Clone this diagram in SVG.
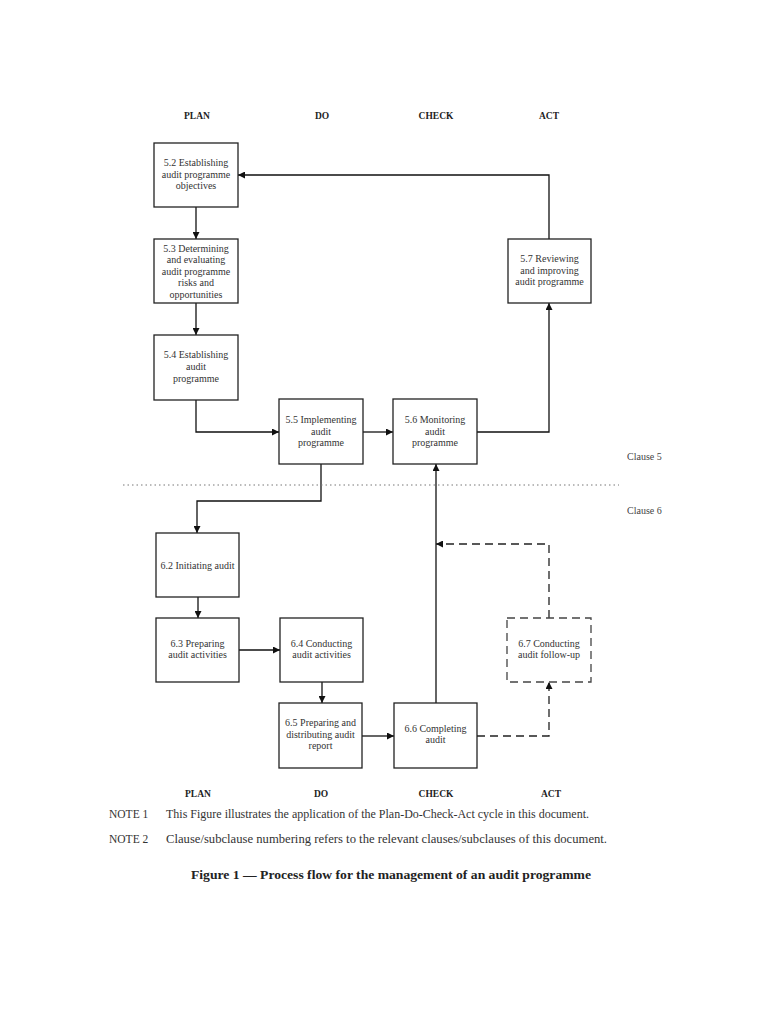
<svg xmlns="http://www.w3.org/2000/svg" width="768" height="1024" viewBox="0 0 768 1024">
<style>
.box{fill:#fff;stroke:#222;stroke-width:1.3}
.dbox{fill:#fff;stroke:#444;stroke-width:1.3;stroke-dasharray:8 5}
.t{font-family:"Liberation Serif","Times New Roman",serif;font-size:10px;fill:#333;text-anchor:middle}
.h{font-family:"Liberation Serif","Times New Roman",serif;font-size:9.5px;font-weight:bold;fill:#222;text-anchor:middle}
.c{font-family:"Liberation Serif","Times New Roman",serif;font-size:10px;fill:#444}
.n{font-family:"Liberation Serif","Times New Roman",serif;font-size:11.5px;fill:#333}
.cap{font-family:"Liberation Serif","Times New Roman",serif;font-size:13.5px;font-weight:bold;fill:#222}
.ln{fill:none;stroke:#111;stroke-width:1.3}
.dl{fill:none;stroke:#222;stroke-width:1.3;stroke-dasharray:8 5}
</style>
<defs>
<marker id="ah" viewBox="0 0 10 10" refX="10" refY="5" markerWidth="7" markerHeight="7" markerUnits="userSpaceOnUse" orient="auto">
<path d="M0,0 L10,5 L0,10 z" fill="#111"/>
</marker>
</defs>
<rect width="768" height="1024" fill="#fff"/>

<g id="headers-top">
<text class="h" x="197" y="119">PLAN</text>
<text class="h" x="322" y="119">DO</text>
<text class="h" x="436" y="119">CHECK</text>
<text class="h" x="549" y="119">ACT</text>
</g>

<g id="connectors">
<path class="ln" d="M196,207 V239" marker-end="url(#ah)"/>
<path class="ln" d="M196,303 V335" marker-end="url(#ah)"/>
<path class="ln" d="M196,400 V432 H279" marker-end="url(#ah)"/>
<path class="ln" d="M363,432 H393" marker-end="url(#ah)"/>
<path class="ln" d="M477,432 H549 V303" marker-end="url(#ah)"/>
<path class="ln" d="M549,239 V175 H238" marker-end="url(#ah)"/>
<path class="ln" d="M321,464 V501 H197 V533" marker-end="url(#ah)"/>
<path class="ln" d="M198,597 V618" marker-end="url(#ah)"/>
<path class="ln" d="M239,650 H280" marker-end="url(#ah)"/>
<path class="ln" d="M322,682 V703" marker-end="url(#ah)"/>
<path class="ln" d="M362,736 H394" marker-end="url(#ah)"/>
<path class="ln" d="M436,703 V464" marker-end="url(#ah)"/>
<path class="dl" d="M477,736 H549 V682" marker-end="url(#ah)"/>
<path class="dl" d="M549,618 V544 H436" marker-end="url(#ah)"/>
</g>

<line x1="123" y1="485" x2="619" y2="485" stroke="#777" stroke-width="1" stroke-dasharray="1.5 3"/>
<text class="c" x="627" y="460">Clause 5</text>
<text class="c" x="627" y="514">Clause 6</text>

<g id="n52">
<rect class="box" x="154" y="143" width="84" height="64"/>
<text class="t" x="196" y="166">5.2 Establishing</text>
<text class="t" x="196" y="178">audit programme</text>
<text class="t" x="196" y="189">objectives</text>
</g>
<g id="n53">
<rect class="box" x="154" y="239" width="84" height="64"/>
<text class="t" x="196" y="251.5">5.3 Determining</text>
<text class="t" x="196" y="263">and evaluating</text>
<text class="t" x="196" y="274.5">audit programme</text>
<text class="t" x="196" y="286">risks and</text>
<text class="t" x="196" y="297.5">opportunities</text>
</g>
<g id="n57">
<rect class="box" x="508" y="239" width="83" height="64"/>
<text class="t" x="549.5" y="262">5.7 Reviewing</text>
<text class="t" x="549.5" y="274">and improving</text>
<text class="t" x="549.5" y="285">audit programme</text>
</g>
<g id="n54">
<rect class="box" x="154" y="335" width="84" height="65"/>
<text class="t" x="196" y="358">5.4 Establishing</text>
<text class="t" x="196" y="370">audit</text>
<text class="t" x="196" y="382">programme</text>
</g>
<g id="n55">
<rect class="box" x="279" y="399" width="84" height="65"/>
<text class="t" x="321" y="423">5.5 Implementing</text>
<text class="t" x="321" y="435">audit</text>
<text class="t" x="321" y="446">programme</text>
</g>
<g id="n56">
<rect class="box" x="393" y="399" width="84" height="65"/>
<text class="t" x="435" y="423">5.6 Monitoring</text>
<text class="t" x="435" y="435">audit</text>
<text class="t" x="435" y="446">programme</text>
</g>
<g id="n62">
<rect class="box" x="156" y="533" width="83" height="64"/>
<text class="t" x="197.5" y="569">6.2 Initiating audit</text>
</g>
<g id="n63">
<rect class="box" x="156" y="618" width="83" height="64"/>
<text class="t" x="197.5" y="647">6.3 Preparing</text>
<text class="t" x="197.5" y="658">audit activities</text>
</g>
<g id="n64">
<rect class="box" x="280" y="618" width="83" height="64"/>
<text class="t" x="321.5" y="647">6.4 Conducting</text>
<text class="t" x="321.5" y="658">audit activities</text>
</g>
<g id="n67">
<rect class="dbox" x="507" y="618" width="84" height="64"/>
<text class="t" x="549" y="647">6.7 Conducting</text>
<text class="t" x="549" y="658">audit follow-up</text>
</g>
<g id="n65">
<rect class="box" x="279" y="703" width="83" height="65"/>
<text class="t" x="320.5" y="726">6.5 Preparing and</text>
<text class="t" x="320.5" y="738">distributing audit</text>
<text class="t" x="320.5" y="749">report</text>
</g>
<g id="n66">
<rect class="box" x="394" y="703" width="83" height="65"/>
<text class="t" x="435.5" y="732">6.6 Completing</text>
<text class="t" x="435.5" y="743">audit</text>
</g>

<g id="headers-bottom">
<text class="h" x="198" y="797">PLAN</text>
<text class="h" x="321" y="797">DO</text>
<text class="h" x="436" y="797">CHECK</text>
<text class="h" x="551" y="797">ACT</text>
</g>

<g id="notes">
<text class="n" x="109" y="818">NOTE 1</text>
<text class="n" x="166" y="818" textLength="423" lengthAdjust="spacingAndGlyphs">This Figure illustrates the application of the Plan-Do-Check-Act cycle in this document.</text>
<text class="n" x="109" y="843">NOTE 2</text>
<text class="n" x="166" y="843" textLength="441" lengthAdjust="spacingAndGlyphs">Clause/subclause numbering refers to the relevant clauses/subclauses of this document.</text>
<text class="cap" x="191" y="879" textLength="400" lengthAdjust="spacingAndGlyphs">Figure 1 — Process flow for the management of an audit programme</text>
</g>
</svg>
